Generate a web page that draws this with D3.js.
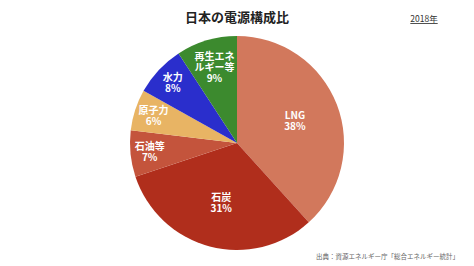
<!DOCTYPE html>
<html><head><meta charset="utf-8">
<script src="https://cdn.jsdelivr.net/npm/d3@7"></script>
<style>body{margin:0;background:#fff}svg{display:block}text{font-family:"Noto Sans CJK JP","Noto Sans",sans-serif}</style>
</head><body>
<svg id="c" width="474" height="266"></svg>
<script>
const labels = [["LNG"], ["石炭"], ["石油等"], ["原子力"], ["水力"], ["再生エネ", "ルギー等"]];
const values = [38.3, 31.6, 7.0, 6.2, 7.7, 9.2];
const pctLabels = ["38%", "31%", "7%", "6%", "8%", "9%"];
const colors = ["#d2785c", "#b02e1c", "#c4543c", "#e8b464", "#2a2ecc", "#3c8a2e"];

const svg = d3.select("#c");
const cx = 237, cy = 143, R = 107;
const g = svg.append("g").attr("transform", `translate(${cx},${cy})`);
const pie = d3.pie().sort(null).value(d => d)(values);
const arc = d3.arc().innerRadius(0).outerRadius(R);
g.selectAll("path").data(pie).join("path").attr("d", arc).attr("fill", (d, i) => colors[i]);

pie.forEach((d, i) => {
  const lr = d.value > 20 ? R * 0.58 : (labels[i].length > 1 ? R * 0.74 : R * 0.82);
  const c = d3.arc().innerRadius(lr).outerRadius(lr).centroid(d);
  const lines = labels[i].concat([pctLabels[i]]);
  const lh = 11;
  lines.forEach((s, j) => {
    g.append("text").attr("text-anchor", "middle").attr("fill", "#fff")
      .attr("font-size", 10).attr("font-weight", "bold")
      .attr("x", c[0]).attr("y", c[1] + (j - (lines.length - 1) / 2) * lh + 3.5).text(s);
  });
});

svg.append("text").attr("x", 237).attr("y", 22).attr("text-anchor", "middle")
  .attr("font-size", 13).attr("font-weight", "bold").attr("fill", "#222").text("日本の電源構成比");
svg.append("text").attr("x", 424).attr("y", 22).attr("text-anchor", "middle")
  .attr("font-size", 8.5).attr("fill", "#333").attr("text-decoration", "underline").text("2018年");
svg.append("text").attr("x", 459).attr("y", 259).attr("text-anchor", "end")
  .attr("font-size", 6.5).attr("fill", "#666").text("出典：資源エネルギー庁「総合エネルギー統計」");
</script>
</body></html>
